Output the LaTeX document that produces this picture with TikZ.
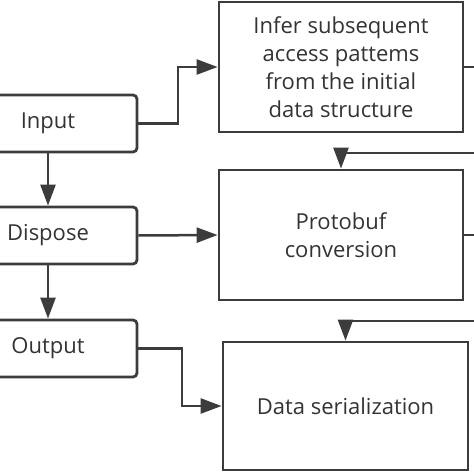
\documentclass[tikz,border=0pt]{standalone}
\usepackage{fontspec}
\setmainfont{Open Sans}
\usetikzlibrary{arrows.meta}
\definecolor{ink}{HTML}{3C3C3C}
\definecolor{txt}{HTML}{333333}
\begin{document}
\begin{tikzpicture}[x=1pt,y=-1pt,
  lbox/.style={draw=ink,line width=2.8pt,rounded corners=4pt,minimum width=178pt,minimum height=57pt,inner sep=0pt,text=txt,font=\fontsize{22}{28}\selectfont},
  rbox/.style={draw=ink,line width=2.8pt,minimum width=244pt,minimum height=130pt,inner sep=0pt,text=txt,align=center,font=\fontsize{22}{28}\selectfont},
  conn/.style={draw=ink,line width=2.5pt,-{Triangle[length=21pt,width=15pt]}},
  plain/.style={draw=ink,line width=2.5pt}]
\useasboundingbox (0,0) rectangle (474,474);
\node[lbox] (input) at (48,123.5) {Input};
\node[lbox] (dispose) at (48,235.5) {Dispose};
\node[lbox] (output) at (48,348.5) {Output};
\node[rbox] (infer) at (341,67) {Infer subsequent\\access pattems\\from the initial\\data structure};
\node[rbox] (proto) at (341,235) {Protobuf\\conversion};
\node[rbox,minimum width=245pt,minimum height=128pt] (data) at (345.5,406) {Data serialization};
\coordinate (c1) at (178,123.5);
\coordinate (c2) at (182,348.5);
\coordinate (f1) at (495,67);
\coordinate (f2) at (495,153);
\coordinate (f3) at (341,153);
\coordinate (g1) at (495,235);
\coordinate (g2) at (495,321);
\coordinate (g3) at (345.5,321);
\draw[conn] (input.south) -- (dispose.north);
\draw[conn] (dispose.south) -- (output.north);
\draw[conn] (input.east) -- (c1) |- (infer.west);
\draw[conn] (dispose.east) -- (proto.west);
\draw[conn] (output.east) -- (c2) |- (data.west);
\draw[plain] (infer.east) -- (f1) -- (f2) -- (f3);
\draw[conn] (f3) -- (proto.north);
\draw[plain] (proto.east) -- (g1) -- (g2) -- (g3);
\draw[conn] (g3) -- (data.north);
\end{tikzpicture}
\end{document}
